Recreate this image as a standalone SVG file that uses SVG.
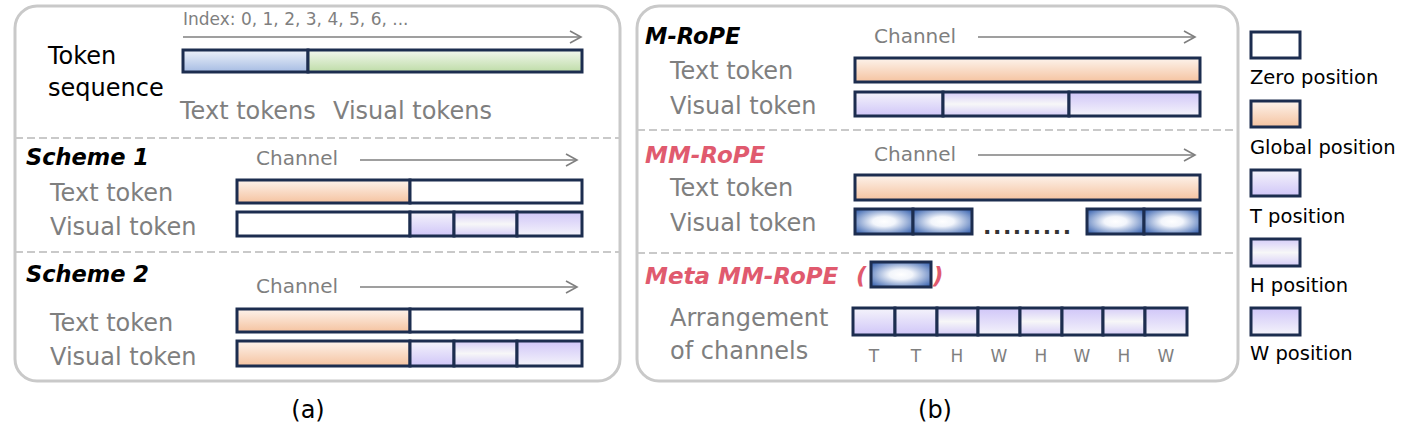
<svg xmlns="http://www.w3.org/2000/svg" width="1424" height="429" viewBox="0 0 1424 429">
<defs>
<linearGradient id="gO" x1="0" y1="0" x2="0" y2="1"><stop offset="0" stop-color="#fdf3ec"/><stop offset="1" stop-color="#f5c3a0"/></linearGradient>
<linearGradient id="gB" x1="0" y1="0" x2="0" y2="1"><stop offset="0" stop-color="#eef2fa"/><stop offset="1" stop-color="#a6bce3"/></linearGradient>
<linearGradient id="gG" x1="0" y1="0" x2="0" y2="1"><stop offset="0" stop-color="#f3f8ef"/><stop offset="1" stop-color="#bedca7"/></linearGradient>
<linearGradient id="gT" x1="0" y1="0" x2="0" y2="1"><stop offset="0" stop-color="#f5f4fb"/><stop offset="1" stop-color="#d0c6f8"/></linearGradient>
<linearGradient id="gH" x1="0" y1="0" x2="0" y2="1"><stop offset="0" stop-color="#d6cdf8"/><stop offset="0.5" stop-color="#f7f7f8"/><stop offset="1" stop-color="#d6cdf8"/></linearGradient>
<linearGradient id="gW" x1="0" y1="0" x2="0" y2="1"><stop offset="0" stop-color="#d0c6f8"/><stop offset="1" stop-color="#f5f4fb"/></linearGradient>
<radialGradient id="gR" cx="0.5" cy="0.5" r="0.65"><stop offset="0" stop-color="#ffffff"/><stop offset="0.3" stop-color="#f2f5fb"/><stop offset="1" stop-color="#3a64b0"/></radialGradient>
<marker id="ah" markerWidth="14" markerHeight="14" refX="12" refY="7" orient="auto" markerUnits="userSpaceOnUse"><path d="M1,1 L12,7 L1,13" fill="none" stroke="#7f7f7f" stroke-width="1.6"/></marker>
</defs>
<style>
.panel{fill:#fff;stroke:#c9c9c9;stroke-width:3}
.dash{stroke:#c9c9c9;stroke-width:2;stroke-dasharray:8 4}
.b{stroke:#1c2d4f;stroke-width:3}
.arr{stroke:#7f7f7f;stroke-width:1.6;fill:none;marker-end:url(#ah)}
.lbl{font-family:"DejaVu Sans","Liberation Sans",sans-serif;fill:#7f7f7f;font-size:24px}
.ch{font-family:"DejaVu Sans","Liberation Sans",sans-serif;fill:#7f7f7f;font-size:20px}
.hd{font-family:"DejaVu Sans","Liberation Sans",sans-serif;fill:#000;font-size:22.5px;font-weight:bold;font-style:italic}
.pk{font-family:"DejaVu Sans","Liberation Sans",sans-serif;fill:#e05a6e;font-size:23px;font-style:italic;font-weight:bold}
.blk{font-family:"DejaVu Sans","Liberation Sans",sans-serif;fill:#000;font-size:24px}
.lg{font-family:"DejaVu Sans","Liberation Sans",sans-serif;fill:#000;font-size:19.5px}
.sm{font-family:"DejaVu Sans","Liberation Sans",sans-serif;fill:#7f7f7f;font-size:17px}
.ax{font-family:"DejaVu Sans","Liberation Sans",sans-serif;fill:#7f7f7f;font-size:17px;text-anchor:middle}
.cap{font-family:"DejaVu Sans","Liberation Sans",sans-serif;fill:#000;font-size:24px;text-anchor:middle}
</style>
<rect width="1424" height="429" fill="#fff"/>

<g id="panel-a">
<rect class="panel" x="15" y="6" width="605" height="375" rx="22"/>
<line class="dash" x1="15" y1="138" x2="620" y2="138"/>
<line class="dash" x1="15" y1="252" x2="620" y2="252"/>
<text class="cap" x="308" y="418">(a)</text>
</g>

<g id="token-sequence">
<text class="sm" x="183" y="25">Index: 0, 1, 2, 3, 4, 5, 6, ...</text>
<rect class="b" x="183" y="50" width="125" height="22" fill="url(#gB)"/>
<rect class="b" x="308" y="50" width="274" height="22" fill="url(#gG)"/>
<text class="blk" x="48" y="64">Token</text>
<text class="blk" x="48" y="96">sequence</text>
<text class="lbl" x="180" y="119">Text tokens</text>
<text class="lbl" x="333" y="119">Visual tokens</text>
</g>

<g id="scheme1">
<text class="hd" x="26" y="165">Scheme 1</text>
<text class="ch" x="256" y="165">Channel</text>
<text class="lbl" x="50" y="201">Text token</text>
<rect class="b" x="237" y="180" width="173" height="23" fill="url(#gO)"/>
<rect class="b" x="410" y="180" width="172" height="23" fill="#fff"/>
<text class="lbl" x="50" y="235">Visual token</text>
<rect class="b" x="237" y="212" width="173" height="24" fill="#fff"/>
<rect class="b" x="410" y="212" width="44" height="24" fill="url(#gT)"/>
<rect class="b" x="454" y="212" width="63" height="24" fill="url(#gH)"/>
<rect class="b" x="517" y="212" width="65" height="24" fill="url(#gW)"/>
</g>

<g id="scheme2">
<text class="hd" x="26" y="282">Scheme 2</text>
<text class="ch" x="256" y="293">Channel</text>
<text class="lbl" x="50" y="331">Text token</text>
<rect class="b" x="237" y="309" width="173" height="23" fill="url(#gO)"/>
<rect class="b" x="410" y="309" width="172" height="23" fill="#fff"/>
<text class="lbl" x="50" y="365">Visual token</text>
<rect class="b" x="237" y="341" width="173" height="25" fill="url(#gO)"/>
<rect class="b" x="410" y="341" width="44" height="25" fill="url(#gT)"/>
<rect class="b" x="454" y="341" width="63" height="25" fill="url(#gH)"/>
<rect class="b" x="517" y="341" width="65" height="25" fill="url(#gW)"/>
</g>

<g id="panel-b">
<rect class="panel" x="637" y="6" width="601" height="375" rx="22"/>
<line class="dash" x1="637" y1="130" x2="1238" y2="130"/>
<line class="dash" x1="637" y1="253" x2="1238" y2="253"/>
<text class="cap" x="935" y="418">(b)</text>
</g>

<g id="m-rope">
<text class="hd" x="645" y="44">M-RoPE</text>
<text class="ch" x="874" y="43">Channel</text>
<text class="lbl" x="670" y="79">Text token</text>
<rect class="b" x="855" y="58" width="345" height="24" fill="url(#gO)"/>
<text class="lbl" x="670" y="114">Visual token</text>
<rect class="b" x="855" y="92" width="88" height="24" fill="url(#gT)"/>
<rect class="b" x="943" y="92" width="126" height="24" fill="url(#gH)"/>
<rect class="b" x="1069" y="92" width="131" height="24" fill="url(#gW)"/>
</g>

<g id="mm-rope">
<text class="pk" x="645" y="163">MM-RoPE</text>
<text class="ch" x="874" y="161">Channel</text>
<text class="lbl" x="670" y="196">Text token</text>
<rect class="b" x="855" y="175" width="345" height="25" fill="url(#gO)"/>
<text class="lbl" x="670" y="231">Visual token</text>
<rect class="b" x="855" y="209" width="58" height="25" fill="url(#gR)"/>
<rect class="b" x="913" y="209" width="59" height="25" fill="url(#gR)"/>
<text x="983" y="234" style="font-family:'DejaVu Sans',sans-serif;font-size:22px;font-weight:bold;fill:#333;letter-spacing:1.6px">.........</text>
<rect class="b" x="1087" y="209" width="57" height="25" fill="url(#gR)"/>
<rect class="b" x="1144" y="209" width="56" height="25" fill="url(#gR)"/>
</g>

<g id="meta-mm-rope">
<text class="pk" x="645" y="284">Meta MM-RoPE <tspan x="856">(</tspan></text>
<rect class="b" x="871" y="262" width="60" height="25" fill="url(#gR)"/>
<text class="pk" x="933" y="284">)</text>
<text class="lbl" x="670" y="326">Arrangement</text>
<text class="lbl" x="670" y="359">of channels</text>
<rect class="b" x="853" y="308" width="42" height="27" fill="url(#gT)"/>
<rect class="b" x="895" y="308" width="42" height="27" fill="url(#gT)"/>
<rect class="b" x="937" y="308" width="41" height="27" fill="url(#gH)"/>
<rect class="b" x="978" y="308" width="42" height="27" fill="url(#gW)"/>
<rect class="b" x="1020" y="308" width="42" height="27" fill="url(#gH)"/>
<rect class="b" x="1062" y="308" width="41" height="27" fill="url(#gW)"/>
<rect class="b" x="1103" y="308" width="42" height="27" fill="url(#gH)"/>
<rect class="b" x="1145" y="308" width="42" height="27" fill="url(#gW)"/>
<text class="ax" x="874" y="362">T</text>
<text class="ax" x="916" y="362">T</text>
<text class="ax" x="957" y="362">H</text>
<text class="ax" x="999" y="362">W</text>
<text class="ax" x="1041" y="362">H</text>
<text class="ax" x="1082" y="362">W</text>
<text class="ax" x="1124" y="362">H</text>
<text class="ax" x="1166" y="362">W</text>
</g>

<g id="legend">
<rect class="b" x="1251" y="32" width="49" height="26" fill="#fff"/>
<text class="lg" x="1250" y="84">Zero position</text>
<rect class="b" x="1251" y="101" width="49" height="26" fill="url(#gO)"/>
<text class="lg" x="1250" y="154">Global position</text>
<rect class="b" x="1251" y="170" width="49" height="26" fill="url(#gT)"/>
<text class="lg" x="1250" y="223">T position</text>
<rect class="b" x="1251" y="239" width="49" height="27" fill="url(#gH)"/>
<text class="lg" x="1250" y="292">H position</text>
<rect class="b" x="1251" y="308" width="49" height="27" fill="url(#gW)"/>
<text class="lg" x="1250" y="360">W position</text>
</g>

<g id="connectors">
<line class="arr" x1="183" y1="37" x2="581" y2="37"/>
<line class="arr" x1="360" y1="160" x2="577" y2="160"/>
<line class="arr" x1="360" y1="287" x2="577" y2="287"/>
<line class="arr" x1="978" y1="37" x2="1195" y2="37"/>
<line class="arr" x1="978" y1="155" x2="1195" y2="155"/>
</g>
</svg>
